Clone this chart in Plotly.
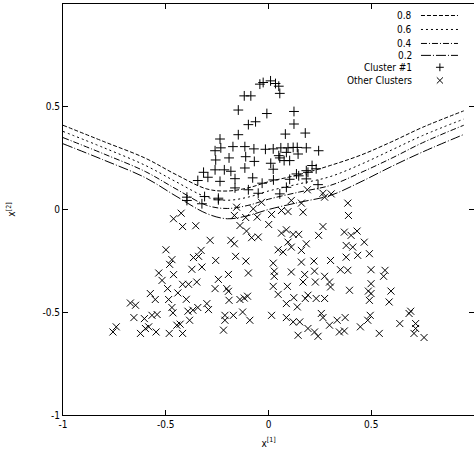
import plotly.graph_objects as go

# ---- data ----
curve_x = [-1.0, -0.8, -0.6, -0.45, -0.3, -0.2, -0.1, 0.0, 0.15, 0.3, 0.45, 0.6, 0.75, 0.95]
c08 = [0.41, 0.33, 0.25, 0.17, 0.10, 0.09, 0.105, 0.135, 0.17, 0.214, 0.265, 0.33, 0.40, 0.48]
c06 = [0.38, 0.30, 0.215, 0.135, 0.06, 0.045, 0.06, 0.09, 0.125, 0.16, 0.22, 0.29, 0.36, 0.44]
c04 = [0.35, 0.27, 0.185, 0.10, 0.02, 0.005, 0.02, 0.05, 0.085, 0.117, 0.18, 0.25, 0.325, 0.41]
c02 = [0.32, 0.24, 0.155, 0.065, -0.02, -0.045, -0.03, 0.0, 0.035, 0.068, 0.135, 0.21, 0.28, 0.365]

plus_x = [-0.042, -0.026, 0.01, 0.034, 0.05, 0.055, -0.118, -0.086, -0.147, -0.008, 0.124,
          -0.098, -0.063, 0.124, -0.147, 0.082, 0.179, -0.232, -0.173, -0.115, -0.071, -0.015,
          0.023, 0.06, 0.095, 0.12, 0.14, 0.184, -0.257, -0.192, -0.111, 0.05, 0.087, 0.144,
          -0.26, -0.183, -0.115, -0.069, 0.011, 0.023, 0.055, 0.076, 0.103, -0.316, -0.295,
          -0.344, -0.236, -0.215, -0.163, -0.077, -0.031, 0.024, 0.103, 0.147, 0.184, 0.184,
          -0.163, -0.098, -0.05, 0.055, 0.087, -0.311, -0.244, 0.244, 0.212, 0.232, 0.192,
          0.241, 0.136, -0.397, -0.397, -0.324, -0.244, -0.26, -0.236]
plus_y = [0.61, 0.618, 0.626, 0.613, 0.60, 0.565, 0.553, 0.553, 0.484, 0.467, 0.477,
          0.413, 0.427, 0.416, 0.364, 0.367, 0.372, 0.30, 0.306, 0.306, 0.295, 0.293,
          0.295, 0.30, 0.30, 0.302, 0.302, 0.30, 0.241, 0.251, 0.257, 0.262, 0.278, 0.27,
          0.193, 0.186, 0.202, 0.234, 0.225, 0.196, 0.251, 0.238, 0.238, 0.181, 0.157,
          0.141, 0.137, 0.193, 0.15, 0.154, 0.128, 0.144, 0.147, 0.164, 0.189, 0.149,
          0.105, 0.096, 0.079, 0.076, 0.108, 0.063, 0.055, 0.286, 0.214, 0.198, 0.181,
          0.121, 0.173, 0.06, 0.044, 0.028, 0.047, 0.286, 0.343]

other_x = [-0.425, -0.462, -0.418, -0.354, -0.155, -0.166, -0.111, -0.055, 0.015, 0.001,
           -0.139, -0.107, -0.082, -0.05, -0.284, -0.183, -0.166, 0.063, 0.087, 0.095,
           0.047, 0.071, -0.499, -0.328, -0.365, -0.34, -0.257, -0.16, -0.11, -0.47,
           -0.481, -0.534, -0.462, -0.373, -0.324, -0.195, -0.098, 0.023, 0.028, 0.028,
           -0.518, -0.418, -0.389, -0.349, -0.244, -0.491, -0.441, -0.203, -0.195, -0.26,
           0.023, 0.092, 0.047, -0.672, -0.647, -0.575, -0.551, -0.486, -0.40, -0.47,
           -0.392, -0.368, -0.344, -0.30, -0.292, -0.192, -0.139, -0.118, -0.102, 0.087,
           -0.655, -0.604, -0.567, -0.542, -0.465, -0.212, -0.171, -0.126, -0.091, -0.212,
           -0.384, 0.015, 0.087, -0.741, -0.757, -0.599, -0.583, -0.623, -0.547, -0.446,
           -0.43, -0.483, -0.418, -0.219,
           0.386, 0.389, 0.12, 0.147, 0.265, 0.244, 0.369, 0.402, 0.431, 0.111,
           0.184, 0.16, 0.378, 0.41, 0.466, 0.378, 0.434, 0.491, 0.111, 0.16,
           0.221, 0.302, 0.224, 0.176, 0.273, 0.35, 0.386, 0.499, 0.567, 0.56,
           0.168, 0.228, 0.297, 0.302, 0.499, 0.394, 0.486, 0.499, 0.596, 0.123,
           0.179, 0.192, 0.232, 0.273, 0.491, 0.587, 0.14, 0.12, 0.152, 0.257,
           0.265, 0.297, 0.334, 0.373, 0.483, 0.495, 0.447, 0.639, 0.684, 0.692,
           0.716, 0.716, 0.708, 0.757, 0.144, 0.192, 0.224, 0.241, 0.345, 0.369, 0.539,
           -0.074, -0.034, 0.063, 0.095, 0.111, 0.16, 0.168, 0.189, 0.265, 0.273, 0.305]
other_y = [-0.018, -0.045, -0.083, -0.079, 0.011, -0.029, -0.039, -0.037, -0.024, -0.073,
           -0.078, -0.105, -0.137, -0.134, -0.15, -0.15, -0.167, -0.115, -0.099, -0.159,
           -0.196, -0.207, -0.196, -0.199, -0.234, -0.228, -0.248, -0.228, -0.251, -0.244,
           -0.267, -0.309, -0.317, -0.291, -0.28, -0.316, -0.309, -0.261, -0.30, -0.325,
           -0.345, -0.364, -0.364, -0.353, -0.34, -0.385, -0.406, -0.385, -0.398, -0.385,
           -0.374, -0.374, -0.413, -0.455, -0.466, -0.409, -0.438, -0.438, -0.437, -0.477,
           -0.495, -0.49, -0.477, -0.458, -0.487, -0.442, -0.438, -0.431, -0.422, -0.458,
           -0.526, -0.531, -0.515, -0.511, -0.503, -0.515, -0.515, -0.499, -0.539, -0.539,
           -0.539, -0.515, -0.526, -0.571, -0.596, -0.579, -0.571, -0.603, -0.596, -0.563,
           -0.558, -0.603, -0.603, -0.587,
           0.031, -0.029, -0.121, -0.121, -0.083, -0.126, -0.11, -0.126, -0.105, -0.183,
           -0.167, -0.199, -0.175, -0.183, -0.159, -0.232, -0.223, -0.215, -0.304, -0.256,
           -0.251, -0.248, -0.30, -0.316, -0.325, -0.293, -0.296, -0.293, -0.296, -0.325,
           -0.353, -0.353, -0.353, -0.377, -0.361, -0.393, -0.397, -0.409, -0.397, -0.429,
           -0.433, -0.417, -0.433, -0.433, -0.442, -0.45, -0.474, -0.547, -0.547, -0.506,
           -0.526, -0.563, -0.539, -0.526, -0.539, -0.515, -0.571, -0.555, -0.506, -0.495,
           -0.555, -0.579, -0.603, -0.623, -0.612, -0.579, -0.596, -0.617, -0.596, -0.591, -0.603,
           0.003, 0.035, -0.005, -0.01, 0.044, 0.031, -0.013, 0.096, 0.079, 0.06, 0.076]

legend_labels = ["0.8", "0.6", "0.4", "0.2", "Cluster #1", "Other Clusters"]

FONT = "DejaVu Sans Condensed, Liberation Sans Narrow, sans-serif"
dashes = ["4px,2px", "2px,3px", "6px,2px,1px,2px", "10px,2px,1px,2px"]

fig = go.Figure()
for ys, name, d in zip([c08, c06, c04, c02], legend_labels[:4], dashes):
    fig.add_trace(go.Scatter(x=curve_x, y=ys, mode="lines", name=name, showlegend=False,
                             line=dict(color="black", width=1, dash=d, shape="spline", smoothing=1)))

fig.add_trace(go.Scatter(x=plus_x, y=plus_y, mode="markers", name=legend_labels[4], showlegend=False,
                         marker=dict(symbol="cross-thin-open", size=7, color="black",
                                     line=dict(width=1, color="black"))))
fig.add_trace(go.Scatter(x=other_x, y=other_y, mode="markers", name=legend_labels[5], showlegend=False,
                         marker=dict(symbol="x-thin-open", size=7, color="black",
                                     line=dict(width=1, color="black"))))

# manual legend (text left of sample, as in the original)
row_y = [0.972, 0.938, 0.904, 0.875, 0.846, 0.814]
for i, lab in enumerate(legend_labels):
    fig.add_annotation(x=0.855, y=row_y[i], xref="paper", yref="paper", text=lab,
                       showarrow=False, xanchor="right", yanchor="middle",
                       font=dict(family=FONT, size=10, color="black"))
for i, d in enumerate(dashes):
    fig.add_shape(type="line", xref="paper", yref="paper", x0=0.871, x1=0.961,
                  y0=row_y[i], y1=row_y[i], line=dict(color="black", width=1, dash=d))
mx, h = 0.917, 0.0095
fig.add_shape(type="line", xref="paper", yref="paper", x0=mx - h, x1=mx + h,
              y0=row_y[4], y1=row_y[4], line=dict(color="black", width=1))
fig.add_shape(type="line", xref="paper", yref="paper", x0=mx, x1=mx,
              y0=row_y[4] - h, y1=row_y[4] + h, line=dict(color="black", width=1))
h2 = 0.0075
fig.add_shape(type="line", xref="paper", yref="paper", x0=mx - h2, x1=mx + h2,
              y0=row_y[5] - h2, y1=row_y[5] + h2, line=dict(color="black", width=1))
fig.add_shape(type="line", xref="paper", yref="paper", x0=mx - h2, x1=mx + h2,
              y0=row_y[5] + h2, y1=row_y[5] - h2, line=dict(color="black", width=1))

axis_common = dict(showline=True, linecolor="black", linewidth=1, mirror="ticks",
                   ticks="inside", ticklen=5, tickcolor="black", showgrid=False, zeroline=False,
                   tickfont=dict(family=FONT, size=10, color="black"))
fig.update_xaxes(range=[-1, 1], tickvals=[-1, -0.5, 0, 0.5], ticktext=["-1", "-0.5", "0", "0.5"],
                 title=dict(text="x<sup>[1]</sup>", standoff=10,
                            font=dict(family=FONT, size=10, color="black")),
                 **axis_common)
fig.update_yaxes(range=[-1, 1], tickvals=[-1, -0.5, 0, 0.5, 1],
                 ticktext=["-1", "-0.5", "0", "0.5", "1"],
                 title=dict(text="x<sup>[2]</sup>", standoff=24,
                            font=dict(family=FONT, size=10, color="black")),
                 **axis_common)
fig.update_layout(width=474, height=454, margin=dict(l=63, r=0, t=4, b=39),
                  plot_bgcolor="white", paper_bgcolor="white", showlegend=False,
                  font=dict(family=FONT, size=10, color="black"))
fig.write_html("out.html")
